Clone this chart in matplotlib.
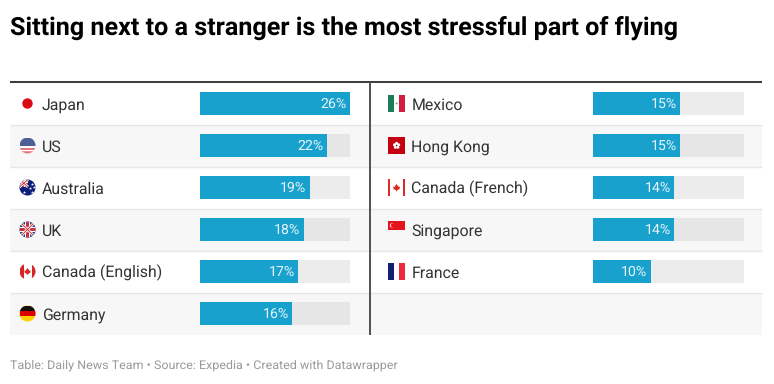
import numpy as np
import matplotlib
matplotlib.use("Agg")
import matplotlib.pyplot as plt
from matplotlib.patches import Circle, Rectangle, Polygon

plt.rcParams['font.family'] = ['Roboto', 'DejaVu Sans']
plt.rcParams['text.hinting'] = 'no_hinting'
plt.rcParams['text.hinting_factor'] = 8

title = "Sitting next to a stranger is the most stressful part of flying"
footer = "Table: Daily News Team • Source: Expedia • Created with Datawrapper"
left_names = ["Japan", "US", "Australia", "UK", "Canada (English)", "Germany"]
left_values = [26, 22, 19, 18, 17, 16]
right_names = ["Mexico", "Hong Kong", "Canada (French)", "Singapore", "France"]
right_values = [15, 15, 14, 14, 10]
scale_max = 26

W, H = 774, 384
BLUE = "#18a1cd"
TOP, ROW = 83.0, 42.0
NROWS = 6

fig = plt.figure(figsize=(W / 100, H / 100), dpi=100, facecolor="white")


def px_axes(x0, y0, x1, y1, z):
    ax = fig.add_axes([x0 / W, 1 - y1 / H, (x1 - x0) / W, (y1 - y0) / H], zorder=z)
    ax.patch.set_alpha(0)
    ax.set_axis_off()
    return ax


bg = px_axes(0, 0, W, H, 1)
bg.set_xlim(0, W)
bg.set_ylim(H, 0)

for i in range(NROWS):
    y = TOP + i * ROW
    bg.add_patch(Rectangle((10, y), 752, ROW, fc="#f7f7f7" if i % 2 else "white", ec="none"))
    if i:
        bg.plot([10, 762], [y - 0.5, y - 0.5], color="#e6e6e6", lw=1.0, solid_capstyle="butt")
bg.plot([10, 762], [82, 82], color="#3f3f3f", lw=1.45, solid_capstyle="butt")
bg.plot([369.5, 369.5], [82, 335], color="#4a4a4a", lw=1.35, solid_capstyle="butt")


def draw_bars(x0, x1, values):
    ax = px_axes(x0, TOP - 0.5, x1, TOP - 0.5 + NROWS * ROW, 2)
    ax.set_xlim(0, scale_max)
    ax.set_ylim(NROWS, 0)
    ypos = np.arange(len(values)) + 0.5
    h = 23.0 / ROW
    for y in ypos:
        track = "#e6e6e6" if int(y) % 2 else "#ececec"
        ax.barh(y, scale_max, height=h, color=track, lw=0)
    ax.barh(ypos, values, height=h, color=BLUE, lw=0)
    for y, v in zip(ypos, values):
        ax.annotate(f"{v}%", (v, y), xytext=(-2.5, -0.1), textcoords="offset points",
                    ha="right", va="center", color="#e6f5fa", fontsize=10.2)


draw_bars(199.5, 350.2, left_values)
draw_bars(592.8, 744.0, right_values)

top = px_axes(0, 0, W, H, 3)
top.set_xlim(0, W)
top.set_ylim(H, 0)


def row_y(i):
    return TOP + (i + 0.5) * ROW - 0.5


for i, n in enumerate(left_names):
    top.text(42, row_y(i) + 1.6, n, fontsize=11.45, color="#333333", va="center", ha="left")
for i, n in enumerate(right_names):
    top.text(411.3, row_y(i) + 1.6, n, fontsize=11.45, color="#333333", va="center", ha="left")

top.text(10, 27.6, title, fontsize=18.06, fontweight="bold", color="#000000", va="center", ha="left")
top.text(10.5, 365.3, footer, fontsize=8.98, color="#9a9a9a", va="center", ha="left")

CX, R = 27.5, 8.0
SX = 388.4


def base_circle(cy, color):
    c = Circle((CX, cy), R, fc=color, ec="none")
    top.add_patch(c)
    return c


def rect(x, y, w, h, color, clip=None):
    p = Rectangle((x, y), w, h, fc=color, ec="none")
    top.add_patch(p)
    if clip is not None:
        p.set_clip_path(clip)
    return p


def leaf(cx, cy, s, color="#d52b1e"):
    pts = [(0, -1), (.25, -.5), (.5, -.65), (.38, -.05), (.6, -.25), (1, -.15), (.8, .2),
           (.95, .3), (.1, .85), (.08, 1.1), (-.08, 1.1), (-.1, .85), (-.95, .3), (-.8, .2),
           (-1, -.15), (-.6, -.25), (-.38, -.05), (-.5, -.65), (-.25, -.5)]
    top.add_patch(Polygon([(cx + s * a, cy + s * b) for a, b in pts], fc=color, ec="none"))


def union_jack(x, y, w, h, clip):
    rect(x, y, w, h, "#2c3f80", clip)
    for (a, b, c, d), col, lw in [((x, y, x + w, y + h), "white", 2.0), ((x, y + h, x + w, y), "white", 2.0),
                                  ((x, y, x + w, y + h), "#c8313e", 0.7), ((x, y + h, x + w, y), "#c8313e", 0.7)]:
        ln, = top.plot([a, c], [b, d], color=col, lw=lw, solid_capstyle="butt")
        ln.set_clip_path(clip)
    t = h * 0.3
    rect(x, y + h / 2 - t / 2, w, t, "white", clip)
    rect(x + w / 2 - t / 2, y, t, h, "white", clip)
    t = h * 0.16
    rect(x, y + h / 2 - t / 2, w, t, "#c8313e", clip)
    rect(x + w / 2 - t / 2, y, t, h, "#c8313e", clip)


# Japan
cy = row_y(0)
top.add_patch(Circle((CX, cy), 5.2, fc="#dc0a14", ec="none"))

# US
cy = row_y(1)
c = base_circle(cy, "white")
for k in range(7):
    rect(CX - R, cy - R + 8 + k * 1.3, 2 * R, 0.65, "#e2757f", c)
rect(CX - R, cy - R, 2 * R, 8, "#4f5f96", c)
rect(CX - R, cy - R + 8.0, 2 * R, 0.8, "#e2757f", c)
rect(CX - R, cy + R - 2.4, 2 * R, 1.2, "#e98f97", c)

# Australia
cy = row_y(2)
c = base_circle(cy, "#0a1f7a")
union_jack(CX - R, cy - R, 8.5, 7.5, c)
for dx, dy in [(4.2, -3.8), (6.0, -0.6), (2.5, 0.2), (4.2, 4.5), (-3.8, 4.2)]:
    top.plot(CX + dx, cy + dy, marker="*", ms=2.4, color="white", mew=0)

# UK
cy = row_y(3)
c = base_circle(cy, "#2c3f80")
union_jack(CX - R, cy - R, 2 * R, 2 * R, c)

# Canada (circular)
cy = row_y(4)
c = base_circle(cy, "white")
rect(CX - R, cy - R, 4.0, 2 * R, "#d8232a", c)
rect(CX + R - 4.0, cy - R, 4.0, 2 * R, "#d8232a", c)
leaf(CX, cy - 0.2, 3.4)

# Germany
cy = row_y(5)
c = base_circle(cy, "#ffce00")
rect(CX - R, cy - R, 2 * R, 5.4, "#111111", c)
rect(CX - R, cy - R + 5.4, 2 * R, 5.4, "#dd0000", c)


def square(i):
    return SX, row_y(i) - 8.2, 16.4, 16.4


# Mexico
x, y, w, h = square(0)
rect(x, y, w / 3, h, "#1c7d5a")
rect(x + 2 * w / 3, y, w / 3, h, "#cf1f3c")
top.add_patch(Circle((x + w / 2, y + h / 2), 1.0, fc="#9b8f6a", ec="none"))

# Hong Kong
x, y, w, h = square(1)
rect(x, y, w, h, "#c40010")
for a in np.arange(5) * 2 * np.pi / 5:
    top.add_patch(Circle((x + w / 2 + 2.2 * np.sin(a), y + h / 2 - 2.2 * np.cos(a)), 1.5, fc="white", ec="none"))

# Canada (rectangular)
x, y, w, h = square(2)
rect(x, y, 1.6, h, "#dc2a2a")
rect(x + w - 1.6, y, 1.6, h, "#dc2a2a")
leaf(x + w / 2, y + h / 2, 3.6)

# Singapore
x, y, w, h = square(3)
rect(x, y, w, h / 2, "#e4141c")
top.add_patch(Circle((x + 3.6, y + h / 4), 2.2, fc="#fbdcdc", ec="none"))
top.add_patch(Circle((x + 4.5, y + h / 4), 2.0, fc="#e4141c", ec="none"))

# France
x, y, w, h = square(4)
rect(x, y, w / 3, h, "#10206e")
rect(x + 2 * w / 3, y, w / 3, h, "#f02840")

fig.savefig("out.png", dpi=100, facecolor="white")
